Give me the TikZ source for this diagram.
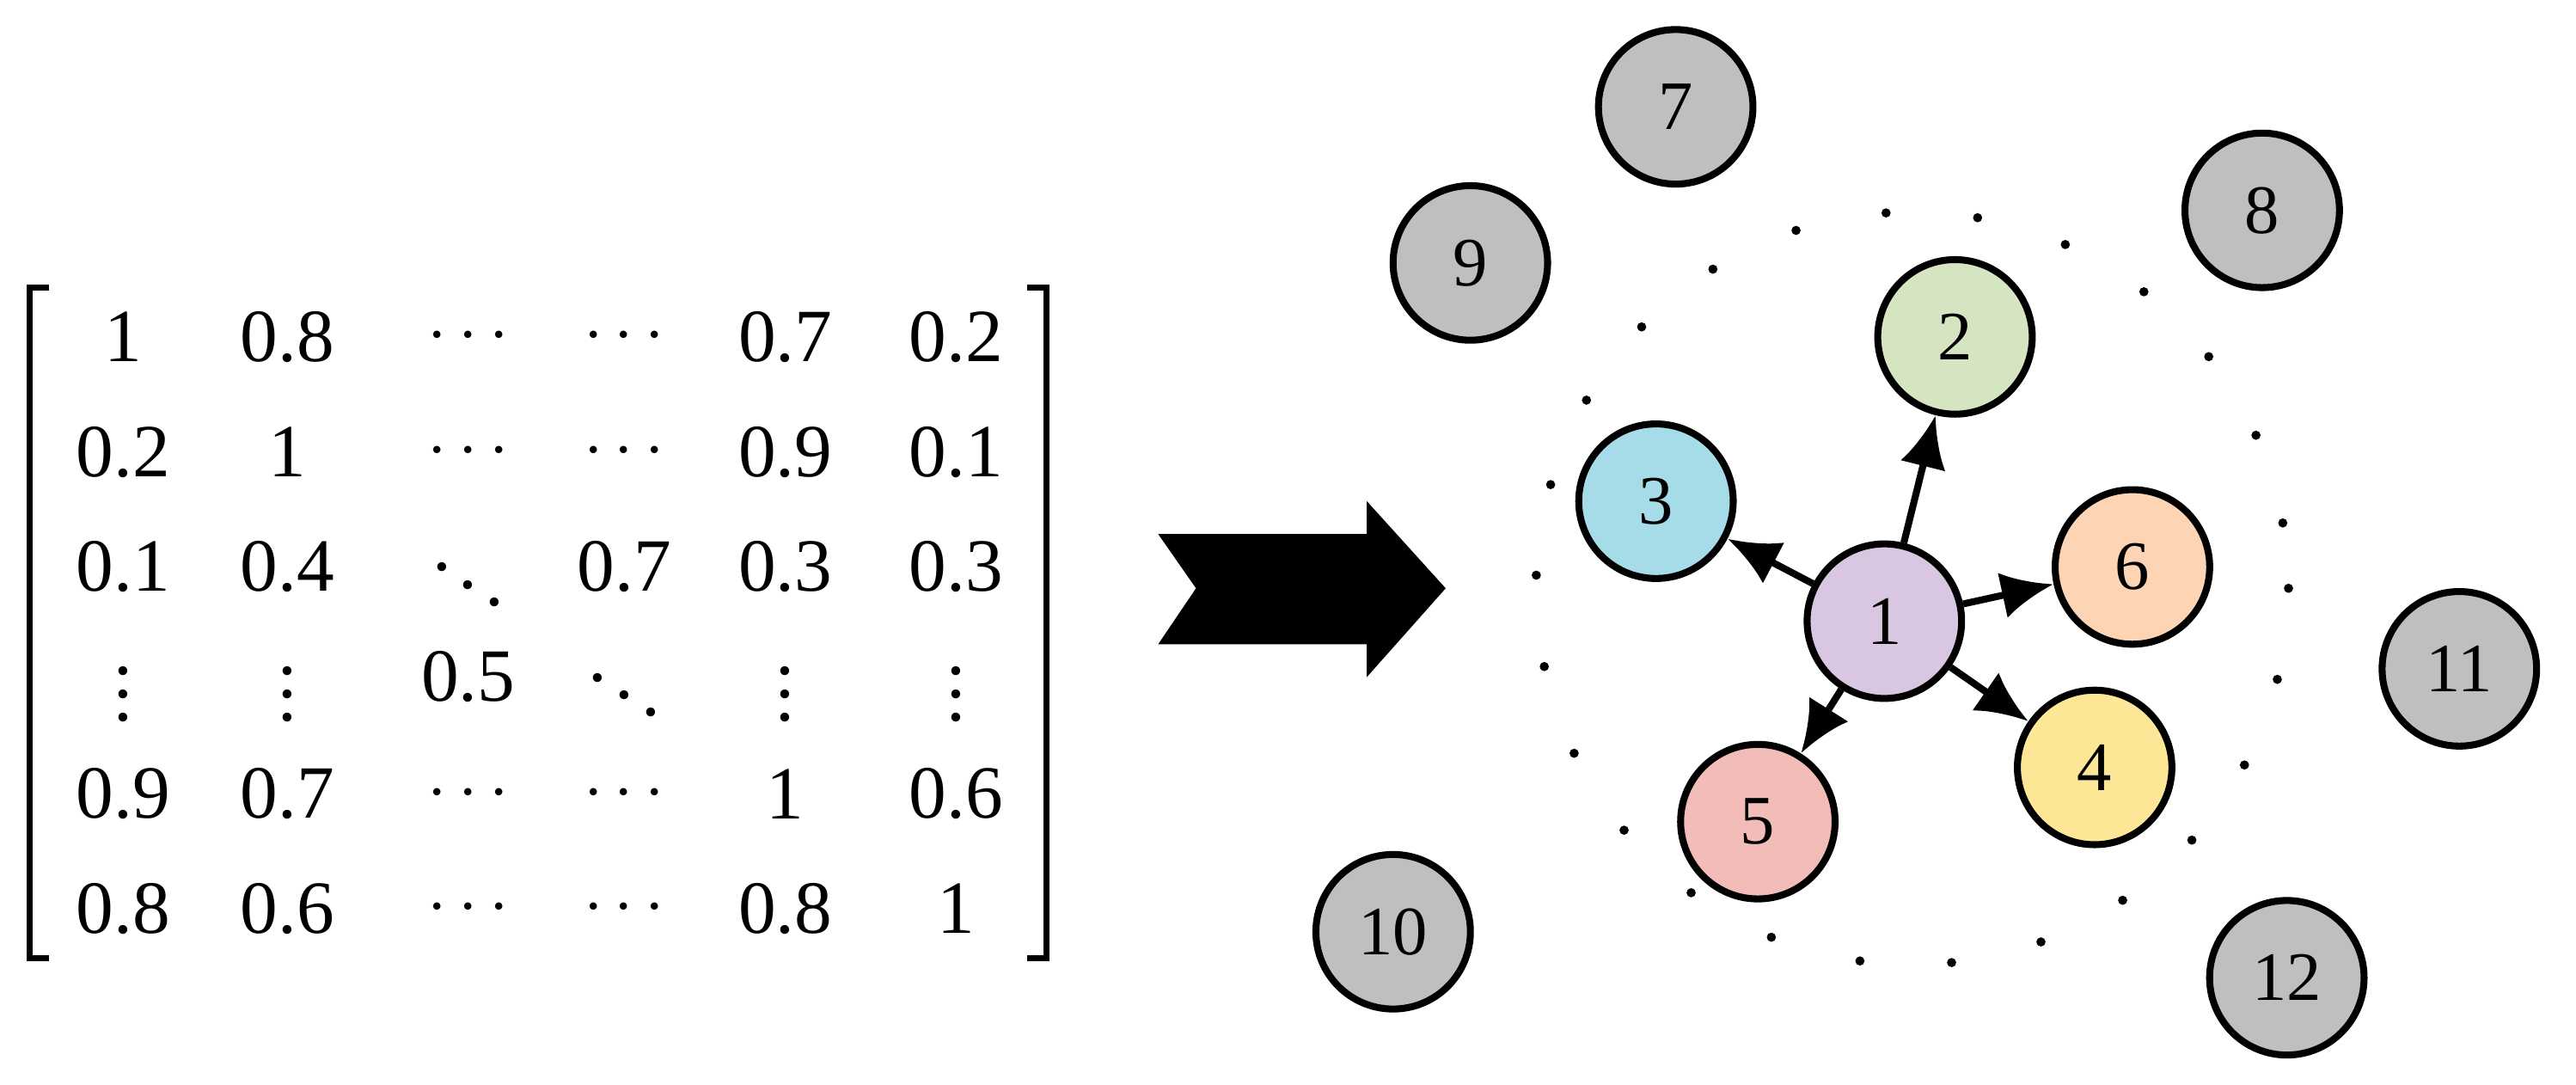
\documentclass[tikz,border=0pt]{standalone}
\usepackage{fontspec}
\setmainfont{Liberation Serif}
\usetikzlibrary{arrows.meta}
\begin{document}
\begin{tikzpicture}[x=0.01cm,y=-0.01cm,
  vertex/.style={circle, draw=black, line width=1.2pt, minimum size=0.94cm, inner sep=0pt, font=\fontsize{12}{12}\selectfont},
  entry/.style={font=\fontsize{13}{13}\selectfont, inner sep=0pt},
  edge/.style={line width=1.2pt, -{Latex[length=9pt,width=8pt]}}]
\useasboundingbox (0,0) rectangle (1568,660);

\draw[line width=1pt] (30,175) -- (18,175) -- (18,583) -- (30,583);
\draw[line width=1pt] (625,175) -- (637,175) -- (637,583) -- (625,583);
\node[entry] (m11) at (75,205) {1};
\node[entry] (m12) at (175,205) {0.8};
\node[entry] (m13) at (285,205) {$\cdots$};
\node[entry] (m14) at (380,205) {$\cdots$};
\node[entry] (m15) at (478,205) {0.7};
\node[entry] (m16) at (582,205) {0.2};
\node[entry] (m21) at (75,275) {0.2};
\node[entry] (m22) at (175,275) {1};
\node[entry] (m23) at (285,275) {$\cdots$};
\node[entry] (m24) at (380,275) {$\cdots$};
\node[entry] (m25) at (478,275) {0.9};
\node[entry] (m26) at (582,275) {0.1};
\node[entry] (m31) at (75,345) {0.1};
\node[entry] (m32) at (175,345) {0.4};
\node[entry] (m33) at (285,345) {$\ddots$};
\node[entry] (m34) at (380,345) {0.7};
\node[entry] (m35) at (478,345) {0.3};
\node[entry] (m36) at (582,345) {0.3};
\node[entry] (m41) at (75,412) {$\vdots$};
\node[entry] (m42) at (175,412) {$\vdots$};
\node[entry] (m43) at (285,412) {0.5};
\node[entry] (m44) at (380,412) {$\ddots$};
\node[entry] (m45) at (478,412) {$\vdots$};
\node[entry] (m46) at (582,412) {$\vdots$};
\node[entry] (m51) at (75,483) {0.9};
\node[entry] (m52) at (175,483) {0.7};
\node[entry] (m53) at (285,483) {$\cdots$};
\node[entry] (m54) at (380,483) {$\cdots$};
\node[entry] (m55) at (478,483) {1};
\node[entry] (m56) at (582,483) {0.6};
\node[entry] (m61) at (75,553) {0.8};
\node[entry] (m62) at (175,553) {0.6};
\node[entry] (m63) at (285,553) {$\cdots$};
\node[entry] (m64) at (380,553) {$\cdots$};
\node[entry] (m65) at (478,553) {0.8};
\node[entry] (m66) at (582,553) {1};

\fill (705,325) -- (832,325) -- (832,305) -- (880,358) -- (832,412) -- (832,392) -- (705,392) -- (728,358) -- cycle;

\foreach \a in {0,14,...,359}
  \fill (1164,358) ++(\a:229) circle (2.8);

\node[vertex, fill={rgb,255:red,217;green,199;blue,225}] (n1) at (1147,378) {1};
\node[vertex, fill={rgb,255:red,214;green,229;blue,193}] (n2) at (1190,205) {2};
\node[vertex, fill={rgb,255:red,166;green,220;blue,232}] (n3) at (1008,305) {3};
\node[vertex, fill={rgb,255:red,253;green,230;blue,150}] (n4) at (1275,467) {4};
\node[vertex, fill={rgb,255:red,242;green,188;blue,184}] (n5) at (1070,500) {5};
\node[vertex, fill={rgb,255:red,253;green,212;blue,180}] (n6) at (1298,345) {6};
\node[vertex, fill={rgb,255:red,191;green,191;blue,191}] (n7) at (1020,65) {7};
\node[vertex, fill={rgb,255:red,191;green,191;blue,191}] (n8) at (1377,128) {8};
\node[vertex, fill={rgb,255:red,191;green,191;blue,191}] (n9) at (895,160) {9};
\node[vertex, fill={rgb,255:red,191;green,191;blue,191}] (n10) at (848,567) {10};
\node[vertex, fill={rgb,255:red,191;green,191;blue,191}] (n11) at (1497,407) {11};
\node[vertex, fill={rgb,255:red,191;green,191;blue,191}] (n12) at (1392,595) {12};

\draw[edge] (n1) -- (n2);
\draw[edge] (n1) -- (n3);
\draw[edge] (n1) -- (n4);
\draw[edge] (n1) -- (n5);
\draw[edge] (n1) -- (n6);
\end{tikzpicture}
\end{document}
